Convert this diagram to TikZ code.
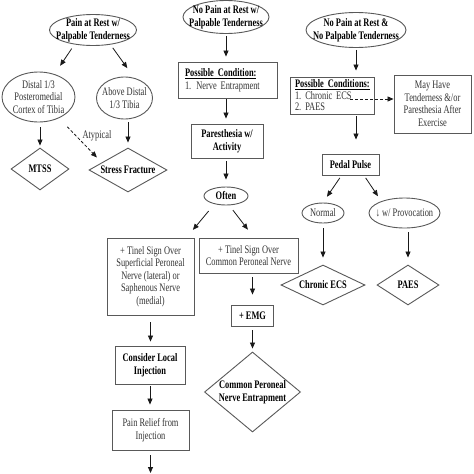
\documentclass[tikz,border=0pt]{standalone}
\usepackage{fontspec}
\setmainfont{Liberation Serif}[FakeStretch=0.73]
\usetikzlibrary{shapes.geometric,arrows.meta,calc}
\tikzset{
  txt/.style={font=\fontsize{11.5}{12.5}\selectfont, text=black!80},
  btxt/.style={font=\fontsize{11.5}{12.5}\selectfont\bfseries, text=black},
  ell/.style={ellipse, draw=black!65, line width=0.9pt, inner sep=-12pt, align=center},
  box/.style={rectangle, draw=black!65, line width=0.9pt, inner sep=0pt, align=center},
  dia/.style={diamond, draw=black!65, line width=0.9pt, inner sep=-3pt, align=center},
  arr/.style={-{Triangle[length=6pt,width=5pt]}, line width=0.8pt, black!90},
  darr/.style={arr, dash pattern=on 3pt off 2pt},
}
\begin{document}
\begin{tikzpicture}[x=1pt,y=-1pt]
\fill[white] (0,0) rectangle (474,474);
\useasboundingbox (0,0) rectangle (474,474);

% left column
\node[ell, btxt, minimum width=87pt, minimum height=31pt] (e1) at (93,30) {Pain at Rest w/\\Palpable Tenderness};
\node[ell, txt, minimum width=73pt, minimum height=50pt] (e2) at (38.5,97) {Distal 1/3\\Posteromedial\\Cortex of Tibia};
\node[ell, txt, minimum width=56pt, minimum height=42pt] (e3) at (124.5,98) {Above Distal\\1/3 Tibia};
\node[dia, btxt, minimum width=58pt, minimum height=42pt, aspect=1.38] (d1) at (40,169) {MTSS};
\node[dia, btxt, minimum width=78pt, minimum height=44pt, aspect=1.77] (d2) at (128,170) {Stress Fracture};
\node[txt] (aty) at (97,136) {Atypical};

\draw[arr, shorten <=5pt, shorten >=10pt] (e1.218) -- (e2.55);
\draw[arr, shorten <=4pt, shorten >=12pt] (e1.-40) -- (e3.64);
\draw[arr, shorten <=5pt, shorten >=2pt] (e2.south -| d1.north) -- (d1.north);
\draw[arr, shorten <=3pt, shorten >=5pt] (e3.south -| d2.north) -- (d2.north);
\draw[darr, shorten <=12pt, shorten >=7pt] (e2.-46) -- (d2.164);

% middle column
\node[ell, btxt, minimum width=86pt, minimum height=33pt] (m1) at (226,17) {No Pain at Rest w/\\Palpable Tenderness};
\node[box, txt, minimum width=99pt, minimum height=36pt, inner xsep=7pt, text width=85pt, align=left] (m2) at (227.5,80) {\textcolor{black}{\textbf{\underline{Possible Condition:}}}\\1.\hspace{5pt}Nerve Entrapment};
\node[box, btxt, minimum width=72pt, minimum height=34pt] (m3) at (227,141) {Paresthesia w/\\Activity};
\node[ell, btxt, minimum width=44pt, minimum height=18pt] (m4) at (226,196) {Often};
\node[box, txt, minimum width=87pt, minimum height=77pt] (l1) at (150.5,276.5) {+ Tinel Sign Over\\Superficial Peroneal\\Nerve (lateral) or\\Saphenous Nerve\\(medial)};
\node[box, txt, minimum width=99pt, minimum height=35pt] (r1) at (248.5,255.5) {+ Tinel Sign Over\\Common Peroneal Nerve};
\node[box, btxt, minimum width=42pt, minimum height=21pt] (r2) at (252.5,315.5) {+ EMG};
\node[dia, btxt, minimum width=96pt, minimum height=80pt, aspect=1.2] (d3) at (252.5,392) {Common Peroneal\\Nerve Entrapment};
\node[box, btxt, minimum width=70pt, minimum height=38pt] (l2) at (150,365) {Consider Local\\Injection};
\node[box, txt, minimum width=77pt, minimum height=40pt] (l3) at (150.5,430) {Pain Relief from\\Injection};
\coordinate (lend) at (151,473);

\draw[arr, shorten <=2pt, shorten >=5pt] (m1.south) -- (m1.south |- m2.north);
\draw[arr, shorten <=1pt, shorten >=5pt] (m2.south -| m1) -- (m3.north -| m1);
\draw[arr, shorten <=3pt, shorten >=7pt] (m3.south -| m1) -- (m4.north);
\draw[arr, shorten <=9pt, shorten >=10pt] (m4.215) -- ([xshift=36pt]l1.north);
\draw[arr, shorten <=6pt, shorten >=10pt] (m4.-71) -- ([xshift=5.5pt]r1.north);
\draw[arr, shorten <=4pt, shorten >=10pt] (r1.south -| r2) -- (r2.north);
\draw[arr, shorten <=4pt, shorten >=3pt] (r2.south) -- (d3.north);
\draw[arr, shorten <=7pt, shorten >=4pt] (l1.south) -- (l1.south |- l2.north);
\draw[arr, shorten <=2pt, shorten >=5pt] (l2.south) -- (l2.south |- l3.north);
\draw[arr, shorten <=5pt] (l3.south) -- (l3.south |- lend);

% right column
\node[ell, btxt, minimum width=100pt, minimum height=35pt] (n1) at (356,30) {No Pain at Rest \&\\No Palpable Tenderness};
\node[box, minimum width=84pt, minimum height=37pt, inner xsep=5pt, text width=74pt, align=left, font=\fontsize{11.5}{11.5}\selectfont, text=black!80] (n2) at (332,95.5) {\textcolor{black}{\textbf{\underline{Possible Conditions:}}}\\1.\hspace{4pt}Chronic ECS\\2.\hspace{4pt}PAES};
\node[box, txt, minimum width=77pt, minimum height=58pt] (n3) at (432.5,104) {May Have\\Tenderness \&/or\\Paresthesia After\\Exercise};
\node[box, btxt, minimum width=57pt, minimum height=21pt] (n4) at (350.5,164.5) {Pedal Pulse};
\node[ell, txt, minimum width=42pt, minimum height=20pt] (n5) at (323,213) {Normal};
\node[ell, txt, minimum width=71pt, minimum height=30pt] (n6) at (404.5,213) {↓ w/ Provocation};
\node[dia, btxt, minimum width=84pt, minimum height=40pt, aspect=2.1] (d4) at (323,285) {Chronic ECS};
\node[dia, btxt, minimum width=62pt, minimum height=40pt, aspect=1.55] (d5) at (408,285) {PAES};
\coordinate (ecs) at ([xshift=-24pt,yshift=-3.5pt]n2.east);

\draw[arr, shorten <=2pt, shorten >=6pt] (n1.south) -- (n1.south |- n2.north);
\draw[darr] (ecs) -- (ecs -| n3.west);
\draw[arr, shorten <=2pt, shorten >=14pt] (n2.south -| n1) -- (n4.north -| n1);
\draw[arr, shorten <=3pt, shorten >=7pt] ([xshift=-9pt]n4.south) -- (n5.north);
\draw[arr, shorten <=3pt, shorten >=6pt] ([xshift=13.5pt]n4.south) -- (n6.153);
\draw[arr, shorten <=5pt, shorten >=7pt] (n5.south) -- (d4.north);
\draw[arr, shorten <=4pt, shorten >=7pt] (n6.south -| d5) -- (d5.north);
\end{tikzpicture}
\end{document}
